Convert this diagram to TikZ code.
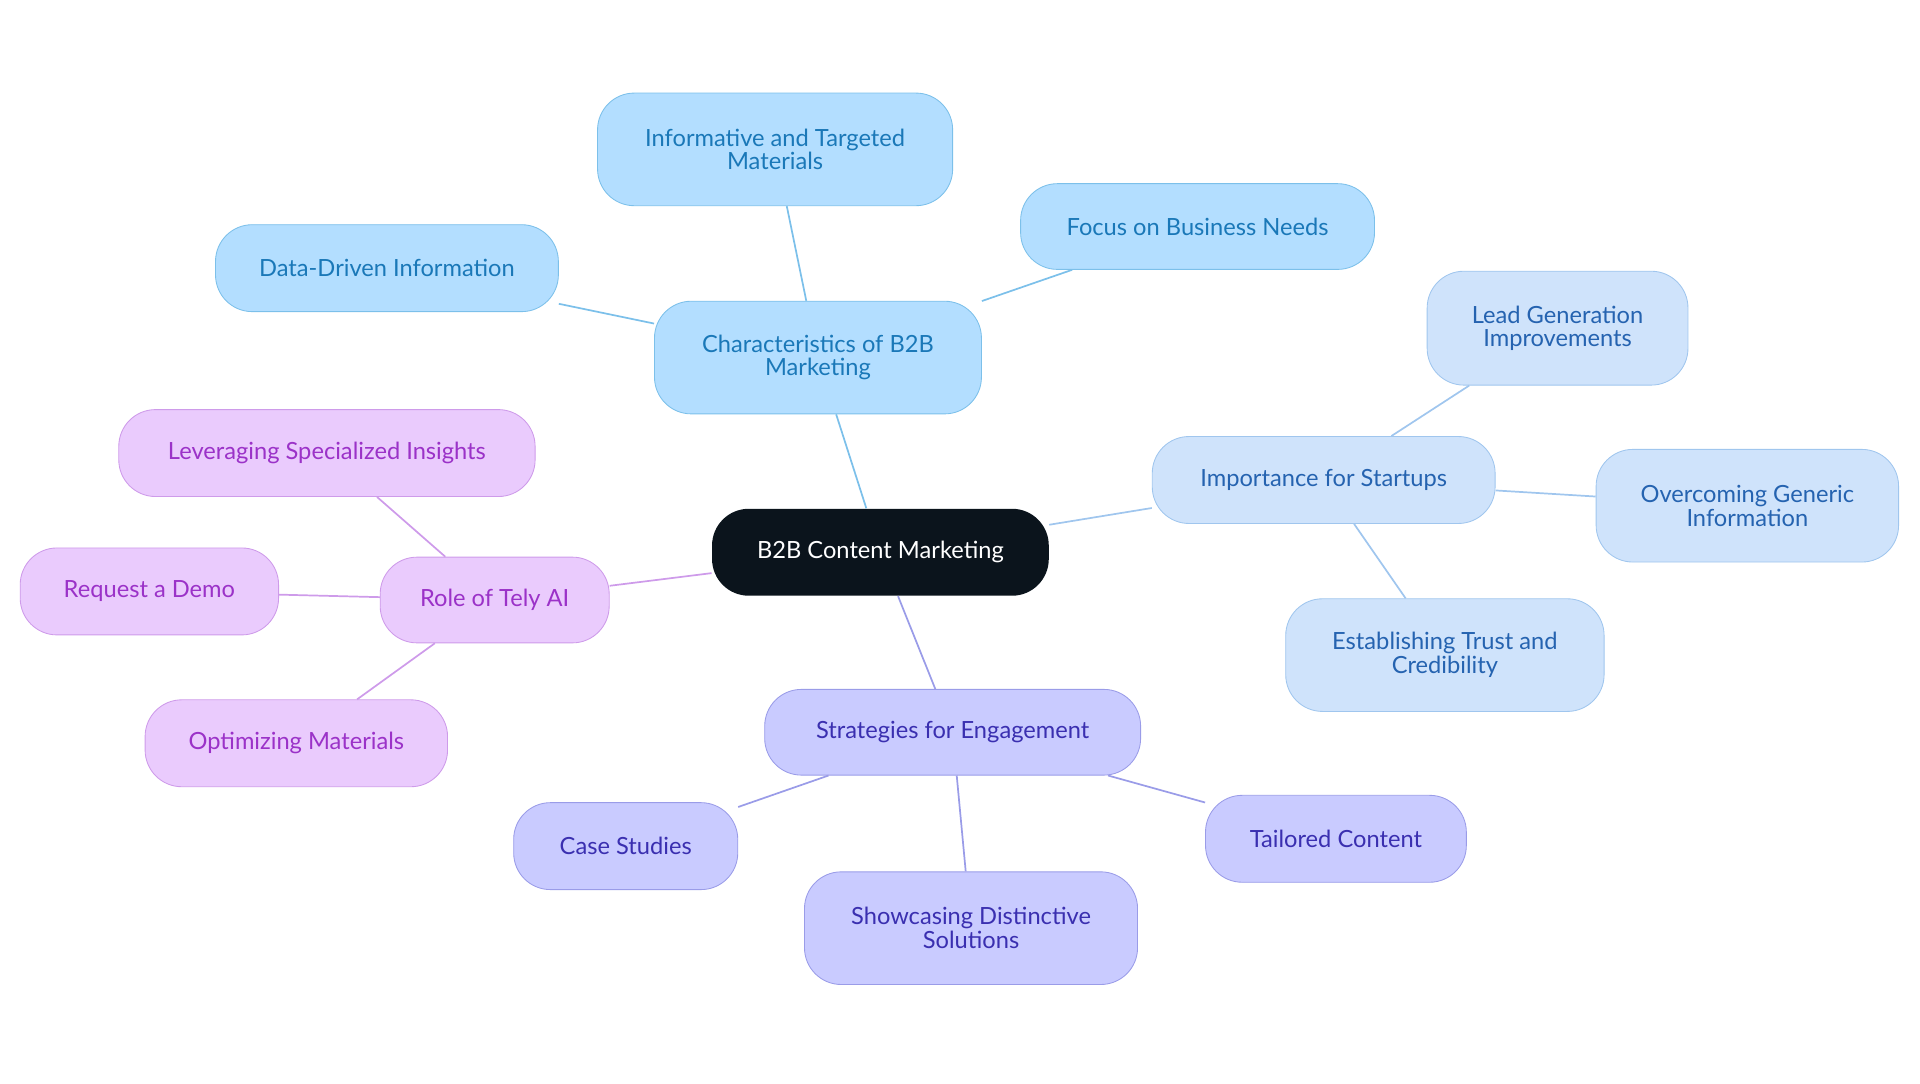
\documentclass[tikz,border=0pt]{standalone}
\usepackage{fontspec}
\setmainfont{Lato}
\definecolor{rootfill}{HTML}{0B141C}
\definecolor{cfill}{HTML}{B3DEFF}\definecolor{cdraw}{HTML}{7CC0EA}\definecolor{ctext}{HTML}{1A78B8}
\definecolor{ifill}{HTML}{CFE3FB}\definecolor{idraw}{HTML}{A0C6EE}\definecolor{itext}{HTML}{2563B0}
\definecolor{sfill}{HTML}{C9CBFF}\definecolor{sdraw}{HTML}{9A9CE8}\definecolor{stext}{HTML}{3A2FB0}
\definecolor{rfill}{HTML}{EACBFD}\definecolor{rdraw}{HTML}{CE9BEA}\definecolor{rtext}{HTML}{9B32C8}
\begin{document}
\begin{tikzpicture}[x=0.02cm,y=-0.02cm,
      every node/.style={rounded corners=0.6cm,inner sep=2pt,align=center,font=\fontsize{11}{11}\selectfont},
      rootbox/.style={fill=rootfill,text=white},
      charbox/.style={fill=cfill,draw=cdraw,text=ctext},
      impbox/.style={fill=ifill,draw=idraw,text=itext},
      stratbox/.style={fill=sfill,draw=sdraw,text=stext},
      rolebox/.style={fill=rfill,draw=rdraw,text=rtext},
      sz/.style 2 args={minimum width=#1*0.02cm,minimum height=#2*0.02cm}]
      \useasboundingbox (0,0) rectangle (1568,885);

      \node[rootbox,sz={275}{71}] (root) at (719,451) {B2B Content Marketing};

      \node[charbox,sz={267}{92}] (char) at (668,292) {Characteristics of B2B\\Marketing};
      \node[charbox,sz={290}{92}] (info) at (633,122) {Informative and Targeted\\Materials};
      \node[charbox,sz={289}{70}] (focus) at (978,185) {Focus on Business Needs};
      \node[charbox,sz={280}{71}] (data) at (316,219) {Data-Driven Information};

      \node[impbox,sz={280}{71}] (imp) at (1081,392) {Importance for Startups};
      \node[impbox,sz={213}{93}] (lead) at (1272,268) {Lead Generation\\Improvements};
      \node[impbox,sz={247}{92}] (over) at (1427,413) {Overcoming Generic\\Information};
      \node[impbox,sz={260}{92}] (trust) at (1180,535) {Establishing Trust and\\Credibility};

      \node[stratbox,sz={307}{70}] (strat) at (778,598) {Strategies for Engagement};
      \node[stratbox,sz={183}{71}] (case) at (511,691) {Case Studies};
      \node[stratbox,sz={272}{92}] (show) at (793,758) {Showcasing Distinctive\\Solutions};
      \node[stratbox,sz={213}{71}] (tail) at (1091,685) {Tailored Content};

      \node[rolebox,sz={187}{70}] (role) at (404,490) {Role of Tely AI};
      \node[rolebox,sz={340}{71}] (lev) at (267,370) {Leveraging Specialized Insights};
      \node[rolebox,sz={211}{71}] (demo) at (122,483) {Request a Demo};
      \node[rolebox,sz={247}{71}] (opt) at (242,607) {Optimizing Materials};

      \begin{scope}[on background layer/.style={},thick]
        \draw[cdraw] (root) -- (char);
        \foreach \n in {info,focus,data} \draw[cdraw] (char) -- (\n);
        \draw[idraw] (root) -- (imp);
        \foreach \n in {lead,over,trust} \draw[idraw] (imp) -- (\n);
        \draw[sdraw] (root) -- (strat);
        \foreach \n in {case,show,tail} \draw[sdraw] (strat) -- (\n);
        \draw[rdraw] (root) -- (role);
        \foreach \n in {lev,demo,opt} \draw[rdraw] (role) -- (\n);
      \end{scope}
\end{tikzpicture}
\end{document}
